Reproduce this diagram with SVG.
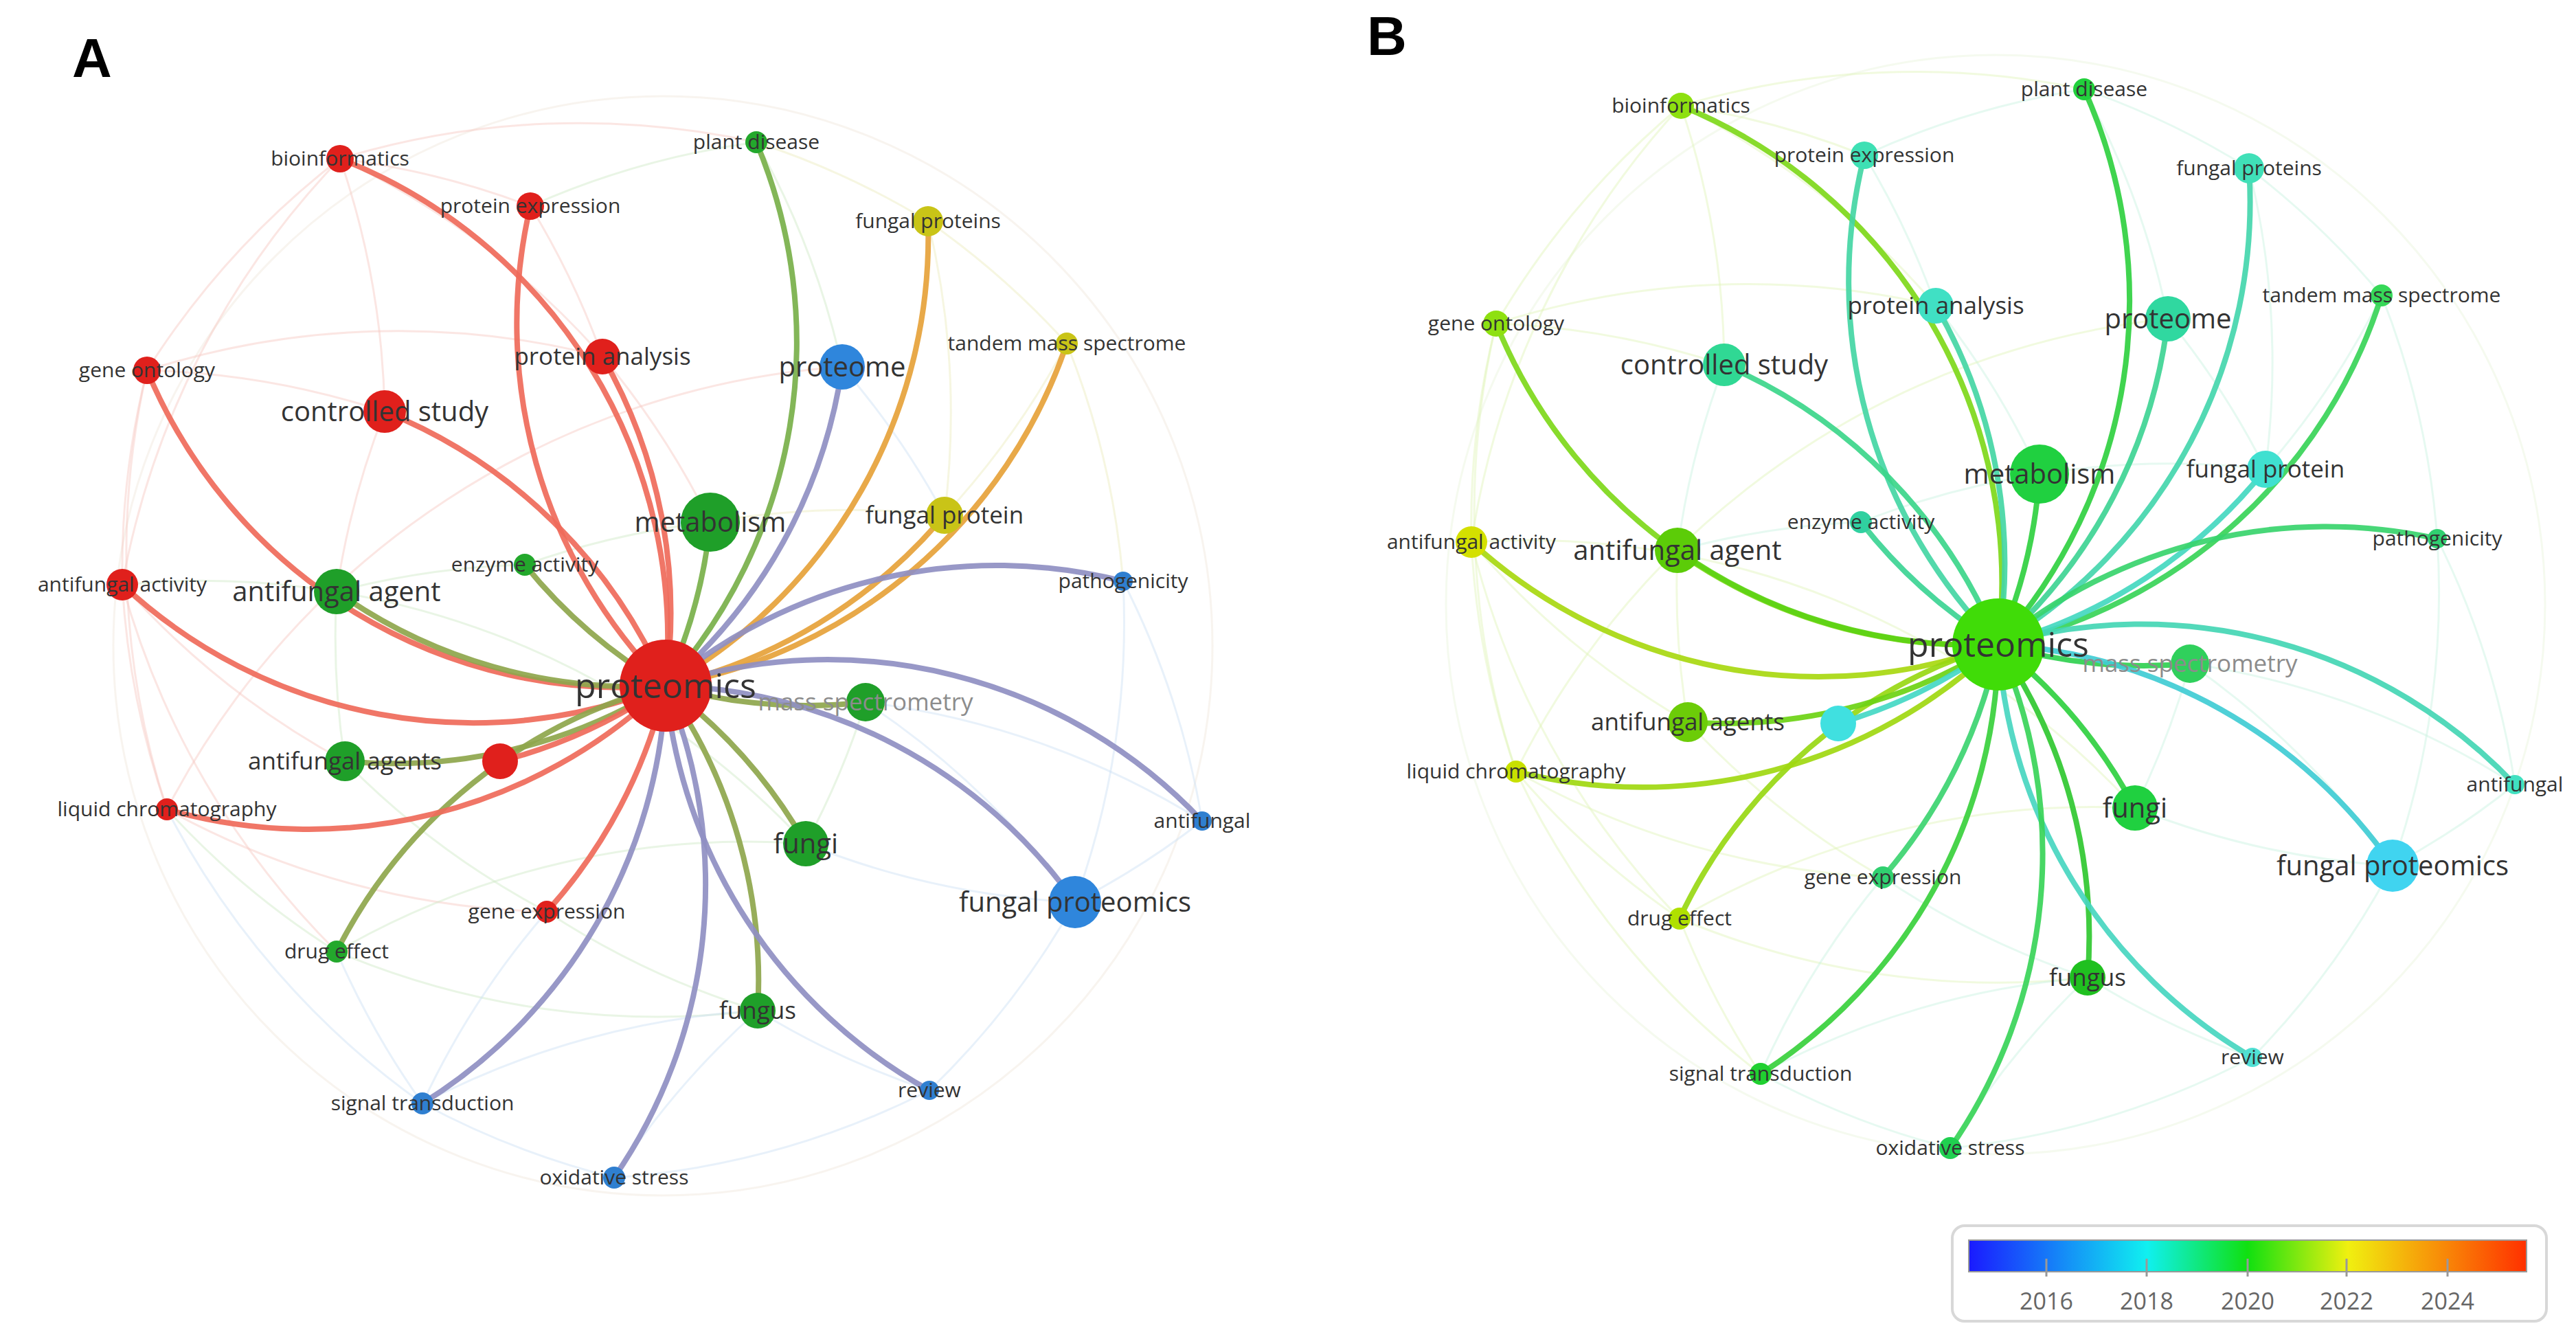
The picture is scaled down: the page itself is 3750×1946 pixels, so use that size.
<svg xmlns="http://www.w3.org/2000/svg" width="3750" height="1946" viewBox="0 0 3750 1946">
<style>
text{font-family:"Open Sans","Liberation Sans",sans-serif;fill:#333;text-anchor:middle}
.s{font-size:30px}.m{font-size:35px}.l{font-size:40px}.xl{font-size:50px}
.grey{fill:#8c8c8c}
.pl{font-family:"Liberation Sans",sans-serif;font-weight:bold;font-size:80px;fill:#000;text-anchor:start}
.e{fill:none;stroke-width:8;stroke-linecap:round;opacity:.92}
.f{fill:none;stroke-width:3;opacity:.45}
.fr{stroke:#f7c8c2}.fg{stroke:#cfe8c6}.fb{stroke:#cde0f3}.fy{stroke:#ecebbd}
.gb{stroke:#dff3b8}.gc{stroke:#c8f1df}
.ar{stroke:#ef6a5a}.ag{stroke:#8ea64c}.ab{stroke:#8f8fc2}.ay{stroke:#e6a23a}.agr{stroke:#78b04a}
.lg text{font-size:34px;fill:#666}
</style>
<defs>
<linearGradient id="bar" x1="0" x2="1" y1="0" y2="0">
<stop offset="0" stop-color="#1a1aff"/><stop offset="0.32" stop-color="#10f0f0"/><stop offset="0.5" stop-color="#10e010"/><stop offset="0.68" stop-color="#f0f010"/><stop offset="1" stop-color="#ff3000"/>
</linearGradient>
</defs>
<rect width="3750" height="1946" fill="#fff"/>
<text class="pl" x="105" y="112">A</text>
<text class="pl" x="1990" y="80">B</text>

<g id="connectors">
<g class="faintA">
<ellipse cx="965" cy="940" rx="800" ry="800" fill="none" stroke="#f3ece4" stroke-width="3" opacity="0.6"/>
<path class="f fr" d="M495 231 A1200 1200 0 0 0 214 539"/>
<path class="f fr" d="M495 231 A1200 1200 0 0 1 1101 207"/>
<path class="f fr" d="M495 231 A1200 1200 0 0 1 560 599"/>
<path class="f fr" d="M495 231 A1200 1200 0 0 0 178 851"/>
<path class="f fr" d="M214 539 A1200 1200 0 0 0 178 851"/>
<path class="f fr" d="M214 539 A1200 1200 0 0 0 243 1178"/>
<path class="f fr" d="M214 539 A1200 1200 0 0 1 560 599"/>
<path class="f fr" d="M178 851 A1200 1200 0 0 0 243 1178"/>
<path class="f fr" d="M178 851 A1200 1200 0 0 0 490 1385"/>
<path class="f fg" d="M243 1178 A1200 1200 0 0 0 490 1385"/>
<path class="f fb" d="M243 1178 A1200 1200 0 0 0 615 1606"/>
<path class="f fb" d="M490 1385 A1200 1200 0 0 0 615 1606"/>
<path class="f fb" d="M615 1606 A1200 1200 0 0 0 894 1714"/>
<path class="f fb" d="M894 1714 A1200 1200 0 0 0 1353 1587"/>
<path class="f fb" d="M1353 1587 A1200 1200 0 0 0 1565 1313"/>
<path class="f fb" d="M1565 1313 A1200 1200 0 0 0 1750 1195"/>
<path class="f fb" d="M1750 1195 A1200 1200 0 0 0 1635 846"/>
<path class="f fy" d="M1635 846 A1200 1200 0 0 0 1553 500"/>
<path class="f fy" d="M1553 500 A1200 1200 0 0 0 1351 322"/>
<path class="f fy" d="M1351 322 A1200 1200 0 0 0 1101 207"/>
<path class="f fg" d="M1101 207 A1200 1200 0 0 0 772 300"/>
<path class="f fr" d="M772 300 A1200 1200 0 0 0 495 231"/>
<path class="f fr" d="M772 300 A1200 1200 0 0 1 877 519"/>
<path class="f fr" d="M560 599 A1200 1200 0 0 0 490 861"/>
<path class="f fg" d="M490 861 A1200 1200 0 0 0 502 1108"/>
<path class="f fg" d="M502 1108 A1200 1200 0 0 0 796 1327"/>
<path class="f fg" d="M796 1327 A1200 1200 0 0 0 1103 1471"/>
<path class="f fb" d="M1103 1471 A1200 1200 0 0 0 1353 1587"/>
<path class="f fb" d="M1173 1228 A1200 1200 0 0 0 1565 1313"/>
<path class="f fb" d="M1260 1022 A1200 1200 0 0 1 1565 1313"/>
<path class="f fg" d="M1260 1022 A1200 1200 0 0 1 1173 1228"/>
<path class="f fy" d="M1034 760 A1200 1200 0 0 1 1375 750"/>
<path class="f fr" d="M1034 760 A1200 1200 0 0 0 877 519"/>
<path class="f fb" d="M1226 534 A1200 1200 0 0 1 1375 750"/>
<path class="f fg" d="M1226 534 A1200 1200 0 0 0 1101 207"/>
<path class="f fy" d="M1351 322 A1200 1200 0 0 1 1375 750"/>
<path class="f fg" d="M764 822 A1200 1200 0 0 0 490 861"/>
<path class="f fg" d="M764 822 A1200 1200 0 0 1 1034 760"/>
<path class="f fg" d="M490 1385 A1200 1200 0 0 0 1103 1471"/>
<path class="f fb" d="M615 1606 A1200 1200 0 0 1 1103 1471"/>
<path class="f fr" d="M214 539 A1200 1200 0 0 1 877 519"/>
<path class="f fr" d="M178 851 A1200 1200 0 0 0 502 1108"/>
<path class="f fr" d="M495 231 A1200 1200 0 0 1 877 519"/>
<path class="f fr" d="M243 1178 A1200 1200 0 0 0 796 1327"/>
<path class="f fb" d="M894 1714 A1200 1200 0 0 1 1103 1471"/>
<path class="f fb" d="M615 1606 A1200 1200 0 0 1 796 1327"/>
<path class="f fb" d="M1750 1195 A1200 1200 0 0 0 1260 1022"/>
<path class="f fb" d="M1635 846 A1200 1200 0 0 1 1565 1313"/>
<path class="f fy" d="M1553 500 A1200 1200 0 0 1 1375 750"/>
<path class="f fg" d="M490 1385 A1200 1200 0 0 1 1173 1228"/>
<path class="f fr" d="M243 1178 A1200 1200 0 0 1 1226 534"/>
<path class="f fg" d="M178 851 A1200 1200 0 0 1 1173 1228"/>
</g>
<g class="strongA">
<path class="e ar" d="M969 998 A750 750 0 0 0 495 231"/>
<path class="e ar" d="M969 998 A750 750 0 0 1 772 300"/>
<path class="e ar" d="M969 998 A750 750 0 0 0 877 519"/>
<path class="e ar" d="M969 998 A750 750 0 0 0 560 599"/>
<path class="e ar" d="M969 998 A750 750 0 0 1 214 539"/>
<path class="e ar" d="M969 998 A750 750 0 0 1 178 851"/>
<path class="e ag" d="M969 998 A750 750 0 0 1 490 861"/>
<path class="e ag" d="M969 998 A750 750 0 0 1 764 822"/>
<path class="e agr" d="M969 998 A750 750 0 0 0 1034 760"/>
<path class="e agr" d="M969 998 A750 750 0 0 0 1101 207"/>
<path class="e ab" d="M969 998 A750 750 0 0 0 1226 534"/>
<path class="e ay" d="M969 998 A750 750 0 0 0 1351 322"/>
<path class="e ay" d="M969 998 A750 750 0 0 0 1553 500"/>
<path class="e ay" d="M969 998 A750 750 0 0 0 1375 750"/>
<path class="e ab" d="M969 998 A750 750 0 0 1 1635 846"/>
<path class="e ag" d="M969 998 A750 750 0 0 0 1260 1022"/>
<path class="e ab" d="M969 998 A750 750 0 0 1 1750 1195"/>
<path class="e ab" d="M969 998 A750 750 0 0 1 1565 1313"/>
<path class="e ag" d="M969 998 A750 750 0 0 1 1173 1228"/>
<path class="e ag" d="M969 998 A750 750 0 0 1 1103 1471"/>
<path class="e ab" d="M969 998 A750 750 0 0 0 1353 1587"/>
<path class="e ab" d="M969 998 A750 750 0 0 1 894 1714"/>
<path class="e ab" d="M969 998 A750 750 0 0 1 615 1606"/>
<path class="e ar" d="M969 998 A750 750 0 0 1 796 1327"/>
<path class="e ag" d="M969 998 A750 750 0 0 0 490 1385"/>
<path class="e ar" d="M969 998 A750 750 0 0 1 243 1178"/>
<path class="e ag" d="M969 998 A750 750 0 0 1 502 1108"/>
<path class="e ar" d="M969 998 A750 750 0 0 1 728 1108"/>
</g>
<g class="faintB">
<ellipse cx="2905" cy="880" rx="800" ry="800" fill="none" stroke="#eef7e4" stroke-width="3" opacity="0.6"/>
<path class="f gb" d="M2447 154 A1200 1200 0 0 0 2178 471"/>
<path class="f gb" d="M2447 154 A1200 1200 0 0 1 3034 130"/>
<path class="f gb" d="M2447 154 A1200 1200 0 0 1 2510 531"/>
<path class="f gb" d="M2447 154 A1200 1200 0 0 0 2142 789"/>
<path class="f gb" d="M2178 471 A1200 1200 0 0 0 2142 789"/>
<path class="f gb" d="M2178 471 A1200 1200 0 0 0 2207 1123"/>
<path class="f gb" d="M2178 471 A1200 1200 0 0 1 2510 531"/>
<path class="f gb" d="M2142 789 A1200 1200 0 0 0 2207 1123"/>
<path class="f gb" d="M2142 789 A1200 1200 0 0 0 2445 1337"/>
<path class="f gb" d="M2207 1123 A1200 1200 0 0 0 2445 1337"/>
<path class="f gb" d="M2207 1123 A1200 1200 0 0 0 2563 1563"/>
<path class="f gb" d="M2445 1337 A1200 1200 0 0 0 2563 1563"/>
<path class="f gc" d="M2563 1563 A1200 1200 0 0 0 2839 1671"/>
<path class="f gc" d="M2839 1671 A1200 1200 0 0 0 3279 1539"/>
<path class="f gc" d="M3279 1539 A1200 1200 0 0 0 3483 1260"/>
<path class="f gc" d="M3483 1260 A1200 1200 0 0 0 3661 1142"/>
<path class="f gc" d="M3661 1142 A1200 1200 0 0 0 3548 784"/>
<path class="f gc" d="M3548 784 A1200 1200 0 0 0 3467 430"/>
<path class="f gc" d="M3467 430 A1200 1200 0 0 0 3274 245"/>
<path class="f gc" d="M3274 245 A1200 1200 0 0 0 3034 130"/>
<path class="f gc" d="M3034 130 A1200 1200 0 0 0 2714 226"/>
<path class="f gb" d="M2714 226 A1200 1200 0 0 0 2447 154"/>
<path class="f gc" d="M2714 226 A1200 1200 0 0 1 2818 445"/>
<path class="f gc" d="M2510 531 A1200 1200 0 0 0 2442 801"/>
<path class="f gb" d="M2442 801 A1200 1200 0 0 0 2457 1051"/>
<path class="f gb" d="M2457 1051 A1200 1200 0 0 0 2741 1277"/>
<path class="f gc" d="M2741 1277 A1200 1200 0 0 0 3039 1423"/>
<path class="f gc" d="M3039 1423 A1200 1200 0 0 0 3279 1539"/>
<path class="f gc" d="M3108 1176 A1200 1200 0 0 0 3483 1260"/>
<path class="f gc" d="M3188 966 A1200 1200 0 0 1 3483 1260"/>
<path class="f gc" d="M3188 966 A1200 1200 0 0 1 3108 1176"/>
<path class="f gc" d="M2969 690 A1200 1200 0 0 1 3298 683"/>
<path class="f gc" d="M2969 690 A1200 1200 0 0 0 2818 445"/>
<path class="f gc" d="M3156 464 A1200 1200 0 0 1 3298 683"/>
<path class="f gc" d="M3156 464 A1200 1200 0 0 0 3034 130"/>
<path class="f gc" d="M3274 245 A1200 1200 0 0 1 3298 683"/>
<path class="f gc" d="M2709 760 A1200 1200 0 0 0 2442 801"/>
<path class="f gc" d="M2709 760 A1200 1200 0 0 1 2969 690"/>
<path class="f gb" d="M2445 1337 A1200 1200 0 0 0 3039 1423"/>
<path class="f gc" d="M2563 1563 A1200 1200 0 0 1 3039 1423"/>
<path class="f gb" d="M2178 471 A1200 1200 0 0 1 2818 445"/>
<path class="f gb" d="M2142 789 A1200 1200 0 0 0 2457 1051"/>
<path class="f gb" d="M2447 154 A1200 1200 0 0 1 2818 445"/>
<path class="f gb" d="M2207 1123 A1200 1200 0 0 0 2741 1277"/>
<path class="f gc" d="M2839 1671 A1200 1200 0 0 1 3039 1423"/>
<path class="f gc" d="M2563 1563 A1200 1200 0 0 1 2741 1277"/>
<path class="f gc" d="M3661 1142 A1200 1200 0 0 0 3188 966"/>
<path class="f gc" d="M3548 784 A1200 1200 0 0 1 3483 1260"/>
<path class="f gc" d="M3467 430 A1200 1200 0 0 1 3298 683"/>
<path class="f gb" d="M2445 1337 A1200 1200 0 0 1 3108 1176"/>
<path class="f gb" d="M2207 1123 A1200 1200 0 0 1 3156 464"/>
<path class="f gb" d="M2142 789 A1200 1200 0 0 1 3108 1176"/>
</g>
<g class="strongB">
<path class="e" stroke="#7ed81a" d="M2909 938 A750 750 0 0 0 2447 154"/>
<path class="e" stroke="#44d6a4" d="M2909 938 A750 750 0 0 1 2714 226"/>
<path class="e" stroke="#44d6a4" d="M2909 938 A750 750 0 0 0 2818 445"/>
<path class="e" stroke="#3cd68a" d="M2909 938 A750 750 0 0 0 2510 531"/>
<path class="e" stroke="#7ed81a" d="M2909 938 A750 750 0 0 1 2178 471"/>
<path class="e" stroke="#a8d810" d="M2909 938 A750 750 0 0 1 2142 789"/>
<path class="e" stroke="#5cd214" d="M2909 938 A750 750 0 0 1 2442 801"/>
<path class="e" stroke="#3cd494" d="M2909 938 A750 750 0 0 1 2709 760"/>
<path class="e" stroke="#30d040" d="M2909 938 A750 750 0 0 0 2969 690"/>
<path class="e" stroke="#30d040" d="M2909 938 A750 750 0 0 0 3034 130"/>
<path class="e" stroke="#3ed494" d="M2909 938 A750 750 0 0 0 3156 464"/>
<path class="e" stroke="#44d6ac" d="M2909 938 A750 750 0 0 0 3274 245"/>
<path class="e" stroke="#38d458" d="M2909 938 A750 750 0 0 0 3467 430"/>
<path class="e" stroke="#44d8c0" d="M2909 938 A750 750 0 0 0 3298 683"/>
<path class="e" stroke="#38d46c" d="M2909 938 A750 750 0 0 1 3548 784"/>
<path class="e" stroke="#30d050" d="M2909 938 A750 750 0 0 0 3188 966"/>
<path class="e" stroke="#44d6b4" d="M2909 938 A750 750 0 0 1 3661 1142"/>
<path class="e" stroke="#40ccd4" d="M2909 938 A750 750 0 0 1 3483 1260"/>
<path class="e" stroke="#30d040" d="M2909 938 A750 750 0 0 1 3108 1176"/>
<path class="e" stroke="#30c830" d="M2909 938 A750 750 0 0 1 3039 1423"/>
<path class="e" stroke="#48d6c0" d="M2909 938 A750 750 0 0 0 3279 1539"/>
<path class="e" stroke="#38d458" d="M2909 938 A750 750 0 0 1 2839 1671"/>
<path class="e" stroke="#38d03c" d="M2909 938 A750 750 0 0 1 2563 1563"/>
<path class="e" stroke="#3cd470" d="M2909 938 A750 750 0 0 1 2741 1277"/>
<path class="e" stroke="#98d814" d="M2909 938 A750 750 0 0 0 2445 1337"/>
<path class="e" stroke="#a0d810" d="M2909 938 A750 750 0 0 1 2207 1123"/>
<path class="e" stroke="#6cd214" d="M2909 938 A750 750 0 0 1 2457 1051"/>
<path class="e" stroke="#44d8c4" d="M2909 938 A750 750 0 0 1 2676 1053"/>
</g>
</g>

<g id="A-nodes">
<g id="a-bioinformatics"><circle cx="495" cy="231" r="20" fill="#e0201c"/><text class="s" x="495" y="241">bioinformatics</text></g>
<g id="a-protein-expression"><circle cx="772" cy="300" r="20" fill="#e0201c"/><text class="s" x="772" y="310">protein expression</text></g>
<g id="a-plant-disease"><circle cx="1101" cy="207" r="16" fill="#23a82c"/><text class="s" x="1101" y="217">plant disease</text></g>
<g id="a-fungal-proteins"><circle cx="1351" cy="322" r="22" fill="#c9c417"/><text class="s" x="1351" y="332">fungal proteins</text></g>
<g id="a-tandem"><circle cx="1553" cy="500" r="16" fill="#c9c417"/><text class="s" x="1553" y="510">tandem mass spectrome</text></g>
<g id="a-gene-ontology"><circle cx="214" cy="539" r="20" fill="#e0201c"/><text class="s" x="214" y="549">gene ontology</text></g>
<g id="a-protein-analysis"><circle cx="877" cy="519" r="26" fill="#e0201c"/><text class="m" x="877" y="531">protein analysis</text></g>
<g id="a-proteome"><circle cx="1226" cy="534" r="33" fill="#2f86dc"/><text class="l" x="1226" y="548">proteome</text></g>
<g id="a-controlled-study"><circle cx="560" cy="599" r="31" fill="#e0201c"/><text class="l" x="560" y="613">controlled study</text></g>
<g id="a-metabolism"><circle cx="1034" cy="760" r="43" fill="#1f9f29"/><text class="l" x="1034" y="774">metabolism</text></g>
<g id="a-fungal-protein"><circle cx="1375" cy="750" r="27" fill="#c9c417"/><text class="m" x="1375" y="762">fungal protein</text></g>
<g id="a-pathogenicity"><circle cx="1635" cy="846" r="14" fill="#2f7fd0"/><text class="s" x="1635" y="856">pathogenicity</text></g>
<g id="a-enzyme-activity"><circle cx="764" cy="822" r="16" fill="#23a82c"/><text class="s" x="764" y="832">enzyme activity</text></g>
<g id="a-antifungal-activity"><circle cx="178" cy="851" r="23" fill="#e0201c"/><text class="s" x="178" y="861">antifungal activity</text></g>
<g id="a-antifungal-agent"><circle cx="490" cy="861" r="33" fill="#1f9f29"/><text class="l" x="490" y="875">antifungal agent</text></g>
<g id="a-proteomics"><circle cx="969" cy="998" r="67" fill="#e0201c"/><text class="xl" x="969" y="1016">proteomics</text></g>
<g id="a-mass-spectrometry"><circle cx="1260" cy="1022" r="28" fill="#1f9f29"/><text class="m grey" x="1260" y="1034">mass spectrometry</text></g>
<g id="a-antifungal-agents"><circle cx="502" cy="1108" r="29" fill="#1f9f29"/><text class="m" x="502" y="1120">antifungal agents</text></g>
<g id="a-unlabeled"><circle cx="728" cy="1108" r="26" fill="#e0201c"/></g>
<g id="a-liquid-chromatography"><circle cx="243" cy="1178" r="16" fill="#e0201c"/><text class="s" x="243" y="1188">liquid chromatography</text></g>
<g id="a-antifungal"><circle cx="1750" cy="1195" r="14" fill="#2f7fd0"/><text class="s" x="1750" y="1205">antifungal</text></g>
<g id="a-fungi"><circle cx="1173" cy="1228" r="33" fill="#1f9f29"/><text class="l" x="1173" y="1242">fungi</text></g>
<g id="a-fungal-proteomics"><circle cx="1565" cy="1313" r="38" fill="#2f86dc"/><text class="l" x="1565" y="1327">fungal proteomics</text></g>
<g id="a-gene-expression"><circle cx="796" cy="1327" r="16" fill="#e0201c"/><text class="s" x="796" y="1337">gene expression</text></g>
<g id="a-drug-effect"><circle cx="490" cy="1385" r="16" fill="#23a82c"/><text class="s" x="490" y="1395">drug effect</text></g>
<g id="a-fungus"><circle cx="1103" cy="1471" r="26" fill="#1f9f29"/><text class="m" x="1103" y="1483">fungus</text></g>
<g id="a-signal-transduction"><circle cx="615" cy="1606" r="16" fill="#2f7fd0"/><text class="s" x="615" y="1616">signal transduction</text></g>
<g id="a-review"><circle cx="1353" cy="1587" r="14" fill="#2f7fd0"/><text class="s" x="1353" y="1597">review</text></g>
<g id="a-oxidative-stress"><circle cx="894" cy="1714" r="16" fill="#2f7fd0"/><text class="s" x="894" y="1724">oxidative stress</text></g>
</g>

<g id="B-nodes">
<g id="b-bioinformatics"><circle cx="2447" cy="154" r="19" fill="#8ee010"/><text class="s" x="2447" y="164">bioinformatics</text></g>
<g id="b-protein-expression"><circle cx="2714" cy="226" r="20" fill="#3ee0b4"/><text class="s" x="2714" y="236">protein expression</text></g>
<g id="b-plant-disease"><circle cx="3034" cy="130" r="16" fill="#22d03c"/><text class="s" x="3034" y="140">plant disease</text></g>
<g id="b-fungal-proteins"><circle cx="3274" cy="245" r="22" fill="#40e0b8"/><text class="s" x="3274" y="255">fungal proteins</text></g>
<g id="b-tandem"><circle cx="3467" cy="430" r="16" fill="#36d858"/><text class="s" x="3467" y="440">tandem mass spectrome</text></g>
<g id="b-gene-ontology"><circle cx="2178" cy="471" r="19" fill="#8ee010"/><text class="s" x="2178" y="481">gene ontology</text></g>
<g id="b-protein-analysis"><circle cx="2818" cy="445" r="26" fill="#40e0c4"/><text class="m" x="2818" y="457">protein analysis</text></g>
<g id="b-proteome"><circle cx="3156" cy="464" r="33" fill="#30d8a0"/><text class="l" x="3156" y="478">proteome</text></g>
<g id="b-controlled-study"><circle cx="2510" cy="531" r="31" fill="#30d894"/><text class="l" x="2510" y="545">controlled study</text></g>
<g id="b-metabolism"><circle cx="2969" cy="690" r="43" fill="#20d040"/><text class="l" x="2969" y="704">metabolism</text></g>
<g id="b-fungal-protein"><circle cx="3298" cy="683" r="27" fill="#40e0d0"/><text class="m" x="3298" y="695">fungal protein</text></g>
<g id="b-pathogenicity"><circle cx="3548" cy="784" r="14" fill="#30d070"/><text class="s" x="3548" y="794">pathogenicity</text></g>
<g id="b-enzyme-activity"><circle cx="2709" cy="760" r="16" fill="#30d0a0"/><text class="s" x="2709" y="770">enzyme activity</text></g>
<g id="b-antifungal-activity"><circle cx="2142" cy="789" r="23" fill="#d4e000"/><text class="s" x="2142" y="799">antifungal activity</text></g>
<g id="b-antifungal-agent"><circle cx="2442" cy="801" r="33" fill="#5ccc08"/><text class="l" x="2442" y="815">antifungal agent</text></g>
<g id="b-proteomics"><circle cx="2909" cy="938" r="67" fill="#40dc08"/><text class="xl" x="2909" y="956">proteomics</text></g>
<g id="b-mass-spectrometry"><circle cx="3188" cy="966" r="28" fill="#30d05c"/><text class="m grey" x="3188" y="978">mass spectrometry</text></g>
<g id="b-antifungal-agents"><circle cx="2457" cy="1051" r="29" fill="#6ccc08"/><text class="m" x="2457" y="1063">antifungal agents</text></g>
<g id="b-unlabeled"><circle cx="2676" cy="1053" r="26" fill="#40e0e0"/></g>
<g id="b-liquid-chromatography"><circle cx="2207" cy="1123" r="16" fill="#c8e000"/><text class="s" x="2207" y="1133">liquid chromatography</text></g>
<g id="b-antifungal"><circle cx="3661" cy="1142" r="14" fill="#40e0c0"/><text class="s" x="3661" y="1152">antifungal</text></g>
<g id="b-fungi"><circle cx="3108" cy="1176" r="33" fill="#20d040"/><text class="l" x="3108" y="1190">fungi</text></g>
<g id="b-fungal-proteomics"><circle cx="3483" cy="1260" r="38" fill="#40d4f0"/><text class="l" x="3483" y="1274">fungal proteomics</text></g>
<g id="b-gene-expression"><circle cx="2741" cy="1277" r="16" fill="#30d070"/><text class="s" x="2741" y="1287">gene expression</text></g>
<g id="b-drug-effect"><circle cx="2445" cy="1337" r="16" fill="#b0e000"/><text class="s" x="2445" y="1347">drug effect</text></g>
<g id="b-fungus"><circle cx="3039" cy="1423" r="26" fill="#20c020"/><text class="m" x="3039" y="1435">fungus</text></g>
<g id="b-signal-transduction"><circle cx="2563" cy="1563" r="16" fill="#20d030"/><text class="s" x="2563" y="1573">signal transduction</text></g>
<g id="b-review"><circle cx="3279" cy="1539" r="14" fill="#50e0d4"/><text class="s" x="3279" y="1549">review</text></g>
<g id="b-oxidative-stress"><circle cx="2839" cy="1671" r="16" fill="#20d050"/><text class="s" x="2839" y="1681">oxidative stress</text></g>
</g>

<g id="legend" class="lg">
<rect x="2842" y="1784" width="865" height="139" rx="18" fill="#fff" stroke="#d8d8d8" stroke-width="4"/>
<rect x="2866" y="1805" width="812" height="46" fill="url(#bar)" stroke="#999" stroke-width="2"/>
<g stroke="#999" stroke-width="3">
<line x1="2979" y1="1832" x2="2979" y2="1858"/><line x1="3125" y1="1832" x2="3125" y2="1858"/><line x1="3272" y1="1832" x2="3272" y2="1858"/><line x1="3416" y1="1832" x2="3416" y2="1858"/><line x1="3563" y1="1832" x2="3563" y2="1858"/>
</g>
<text x="2979" y="1906">2016</text><text x="3125" y="1906">2018</text><text x="3272" y="1906">2020</text><text x="3416" y="1906">2022</text><text x="3563" y="1906">2024</text>
</g>
</svg>
